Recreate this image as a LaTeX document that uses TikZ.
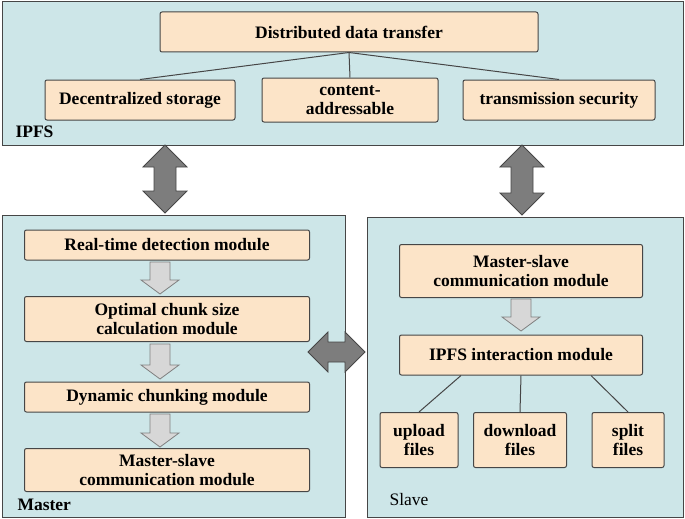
\documentclass[tikz,border=0pt]{standalone}
\usepackage{fontspec}
\setmainfont{Liberation Serif}
\definecolor{panel}{RGB}{205,230,232}
\definecolor{boxc}{RGB}{252,228,200}
\definecolor{edge}{RGB}{70,70,70}
\definecolor{darr}{RGB}{125,125,125}
\definecolor{larr}{RGB}{215,215,215}
\begin{document}
\begin{tikzpicture}[x=1pt,y=-1pt,
 panel/.style={draw=edge,fill=panel,line width=1pt},
 txt/.style={font=\bfseries\fontsize{17.5}{19}\selectfont},
 box/.style={draw=edge,fill=boxc,line width=1pt,rounded corners=2pt,align=center,txt},
 dbl/.style={draw=edge,fill=darr,line width=0.8pt},
 down/.style={draw=gray,fill=larr,line width=0.8pt},
 lnk/.style={draw=edge,line width=1pt}]
\useasboundingbox (0,0) rectangle (685,519);
\draw[panel] (2,2) rectangle (683,145);
\draw[panel] (2,215) rectangle (345,517);
\draw[panel] (367,217) rectangle (683,517);
\node[txt,anchor=west] (ipfs) at (12,132) {IPFS};
\node[txt,anchor=west] (master) at (14,505) {Master};
\node[font=\fontsize{17.5}{19}\selectfont,anchor=west] (slave) at (386,500) {Slave};
% IPFS
\node[box,minimum width=378pt,minimum height=40pt] (ddt) at (349,32) {Distributed data transfer};
\node[box,minimum width=190pt,minimum height=40pt] (dec) at (140,100) {Decentralized storage};
\node[box,minimum width=176pt,minimum height=44pt,inner sep=1pt] (ca) at (350,100) {content-\\addressable};
\node[box,minimum width=192pt,minimum height=40pt] (ts) at (559,100) {transmission security};
\draw[lnk] (ddt.south) -- (dec.north);
\draw[lnk] (ddt.south) -- (ca.north);
\draw[lnk] (ddt.south) -- (ts.north);
% big arrows
\foreach \cx/\ya/\yb in {165/145/213, 522/145/215}{
 \draw[dbl] (\cx,\ya) -- (\cx+22,\ya+22) -- (\cx+11,\ya+22) -- (\cx+11,\yb-22) -- (\cx+22,\yb-22) -- (\cx,\yb)
  -- (\cx-22,\yb-22) -- (\cx-11,\yb-22) -- (\cx-11,\ya+22) -- (\cx-22,\ya+22) -- cycle;}
\draw[dbl] (308,352) -- (328,332) -- (328,342) -- (345,342) -- (345,332) -- (365,352)
  -- (345,372) -- (345,362) -- (328,362) -- (328,372) -- cycle;
% Master
\node[box,minimum width=285pt,minimum height=30pt] (rt) at (167,245) {Real-time detection module};
\node[box,minimum width=285pt,minimum height=45pt,inner sep=1pt] (oc) at (167,319) {Optimal chunk size\\calculation module};
\node[box,minimum width=285pt,minimum height=30pt] (dc) at (167,397) {Dynamic chunking module};
\node[box,minimum width=285pt,minimum height=43pt,inner sep=1pt] (ms) at (167,470) {Master-slave\\communication module};
\foreach \cx/\ya/\yb in {160/262/294, 160/344/379, 160/414/447, 521/299/331}{
 \draw[down] (\cx-10,\ya) -- (\cx+10,\ya) -- (\cx+10,\yb-14) -- (\cx+19,\yb-14) -- (\cx,\yb)
  -- (\cx-19,\yb-14) -- (\cx-10,\yb-14) -- cycle;}
% Slave
\node[box,minimum width=243pt,minimum height=53pt,inner sep=1pt] (sms) at (521,271) {Master-slave\\communication module};
\node[box,minimum width=243pt,minimum height=40pt] (ii) at (521,355) {IPFS interaction module};
\node[box,minimum width=78pt,minimum height=55pt,inner sep=1pt] (up) at (419,440) {upload\\files};
\node[box,minimum width=93pt,minimum height=55pt,inner sep=1pt] (dn) at (520,440) {download\\files};
\node[box,minimum width=72pt,minimum height=55pt,inner sep=1pt] (sp) at (628,440) {split\\files};
\draw[lnk] ([xshift=-60pt]ii.south) -- (up.north);
\draw[lnk] (ii.south) -- (dn.north);
\draw[lnk] ([xshift=70pt]ii.south) -- (sp.north);
\end{tikzpicture}
\end{document}
